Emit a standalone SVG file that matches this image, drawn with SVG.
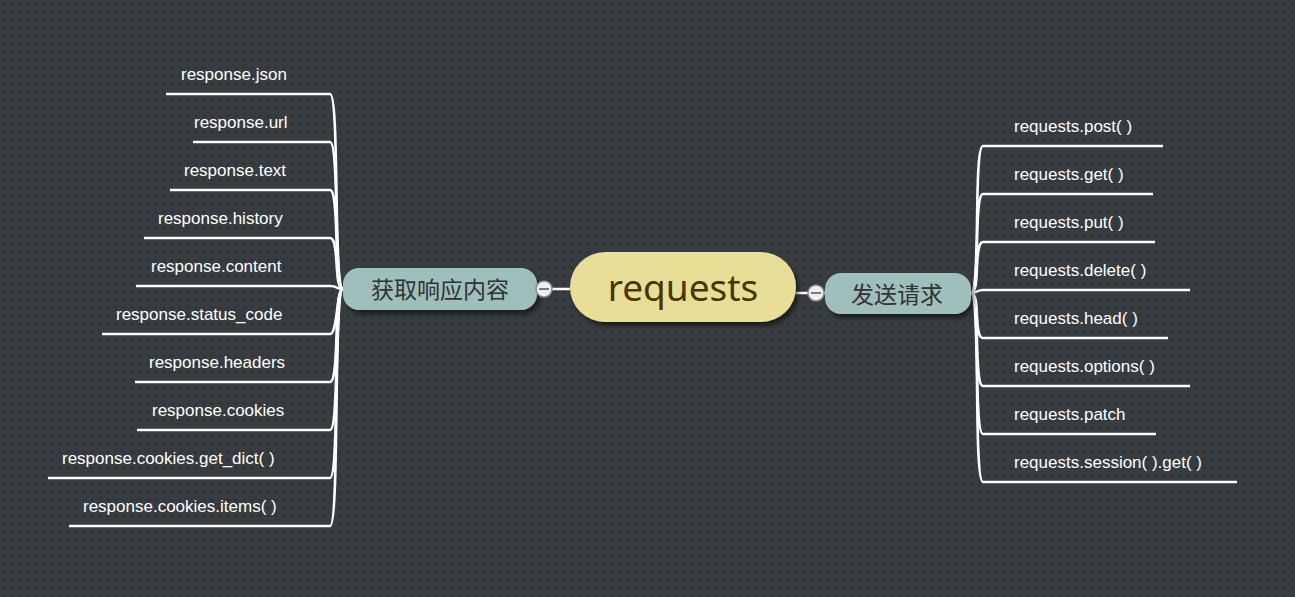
<svg xmlns="http://www.w3.org/2000/svg" width="1295" height="597" viewBox="0 0 1295 597">
<defs>
<pattern id="dots" width="8" height="8" patternUnits="userSpaceOnUse"><rect width="8" height="8" fill="#373c40"/><rect x="3" y="3" width="2" height="2" fill="#2c3033"/></pattern>
<filter id="sh" x="-20%" y="-20%" width="140%" height="160%"><feDropShadow dx="3" dy="4" stdDeviation="2" flood-color="#000" flood-opacity="0.5"/></filter>
</defs>
<style>
.leaf{font-family:"Liberation Sans","Noto Sans",sans-serif;font-size:17px;fill:#fff}
.ln{stroke:#fff;stroke-width:2.5;fill:none}
.sub{fill:#9ebfbb;filter:url(#sh)}
.subt{font-family:"Noto Sans CJK SC",sans-serif;font-size:23px;fill:#333}
.tog{fill:#eee;stroke:#888;stroke-width:1.5}
</style>
<rect width="1295" height="597" fill="url(#dots)"/>
<g id="connectors">
<path class="ln" d="M537 289 H570"/><path class="ln" d="M796 293 H825"/>
<path class="ln" d="M343 289 C333 289 340 94 330 94 H166"/>
<path class="ln" d="M343 289 C333 289 340 142 330 142 H193"/>
<path class="ln" d="M343 289 C333 289 340 190 330 190 H170"/>
<path class="ln" d="M343 289 C333 289 340 238 330 238 H144"/>
<path class="ln" d="M343 289 C336 289 338 286 330 286 H136"/>
<path class="ln" d="M343 289 C336 289 338 334 330 334 H102"/>
<path class="ln" d="M343 289 C333 289 340 382 330 382 H135"/>
<path class="ln" d="M343 289 C333 289 340 430 330 430 H137"/>
<path class="ln" d="M343 289 C333 289 340 478 330 478 H48"/>
<path class="ln" d="M343 289 C333 289 340 526 330 526 H69"/>
<path class="ln" d="M971 293 C981 293 973 146 983 146 H1163"/>
<path class="ln" d="M971 293 C981 293 973 194 983 194 H1153"/>
<path class="ln" d="M971 293 C981 293 973 242 983 242 H1155"/>
<path class="ln" d="M971 293 C978 293 976 290 983 290 H1190"/>
<path class="ln" d="M971 293 C981 293 973 338 983 338 H1168"/>
<path class="ln" d="M971 293 C981 293 973 386 983 386 H1190"/>
<path class="ln" d="M971 293 C981 293 973 434 983 434 H1156"/>
<path class="ln" d="M971 293 C981 293 973 482 983 482 H1237"/>
</g>
<g id="root"><rect x="570" y="252" width="226" height="70" rx="35" fill="#e8de98" filter="url(#sh)"/><text x="683" y="301" text-anchor="middle" font-family="'Noto Sans','Open Sans',sans-serif" font-size="37" fill="#4a3500">requests</text></g>
<g id="left"><rect class="sub" x="343" y="268" width="194" height="42" rx="16"/><text class="subt" x="440" y="298" text-anchor="middle">获取响应内容</text>
<circle class="tog" cx="544" cy="289" r="8"/><path d="M539 289 H549" stroke="#555" stroke-width="1.5"/></g>
<g id="right"><rect class="sub" x="825" y="273" width="146" height="41" rx="16"/><text class="subt" x="897" y="303" text-anchor="middle">发送请求</text>
<circle class="tog" cx="816" cy="293" r="8"/><path d="M811 293 H821" stroke="#555" stroke-width="1.5"/></g>
<g id="leaves-left">
<text class="leaf" x="181" y="80">response.json</text>
<text class="leaf" x="194" y="128">response.url</text>
<text class="leaf" x="184" y="176">response.text</text>
<text class="leaf" x="158" y="224">response.history</text>
<text class="leaf" x="151" y="272">response.content</text>
<text class="leaf" x="116" y="320">response.status_code</text>
<text class="leaf" x="149" y="368">response.headers</text>
<text class="leaf" x="152" y="416">response.cookies</text>
<text class="leaf" x="62" y="464">response.cookies.get_dict( )</text>
<text class="leaf" x="83" y="512">response.cookies.items( )</text>
</g>
<g id="leaves-right">
<text class="leaf" x="1014" y="132">requests.post( )</text>
<text class="leaf" x="1014" y="180">requests.get( )</text>
<text class="leaf" x="1014" y="228">requests.put( )</text>
<text class="leaf" x="1014" y="276">requests.delete( )</text>
<text class="leaf" x="1014" y="324">requests.head( )</text>
<text class="leaf" x="1014" y="372">requests.options( )</text>
<text class="leaf" x="1014" y="420">requests.patch</text>
<text class="leaf" x="1014" y="468">requests.session( ).get( )</text>
</g>
</svg>
